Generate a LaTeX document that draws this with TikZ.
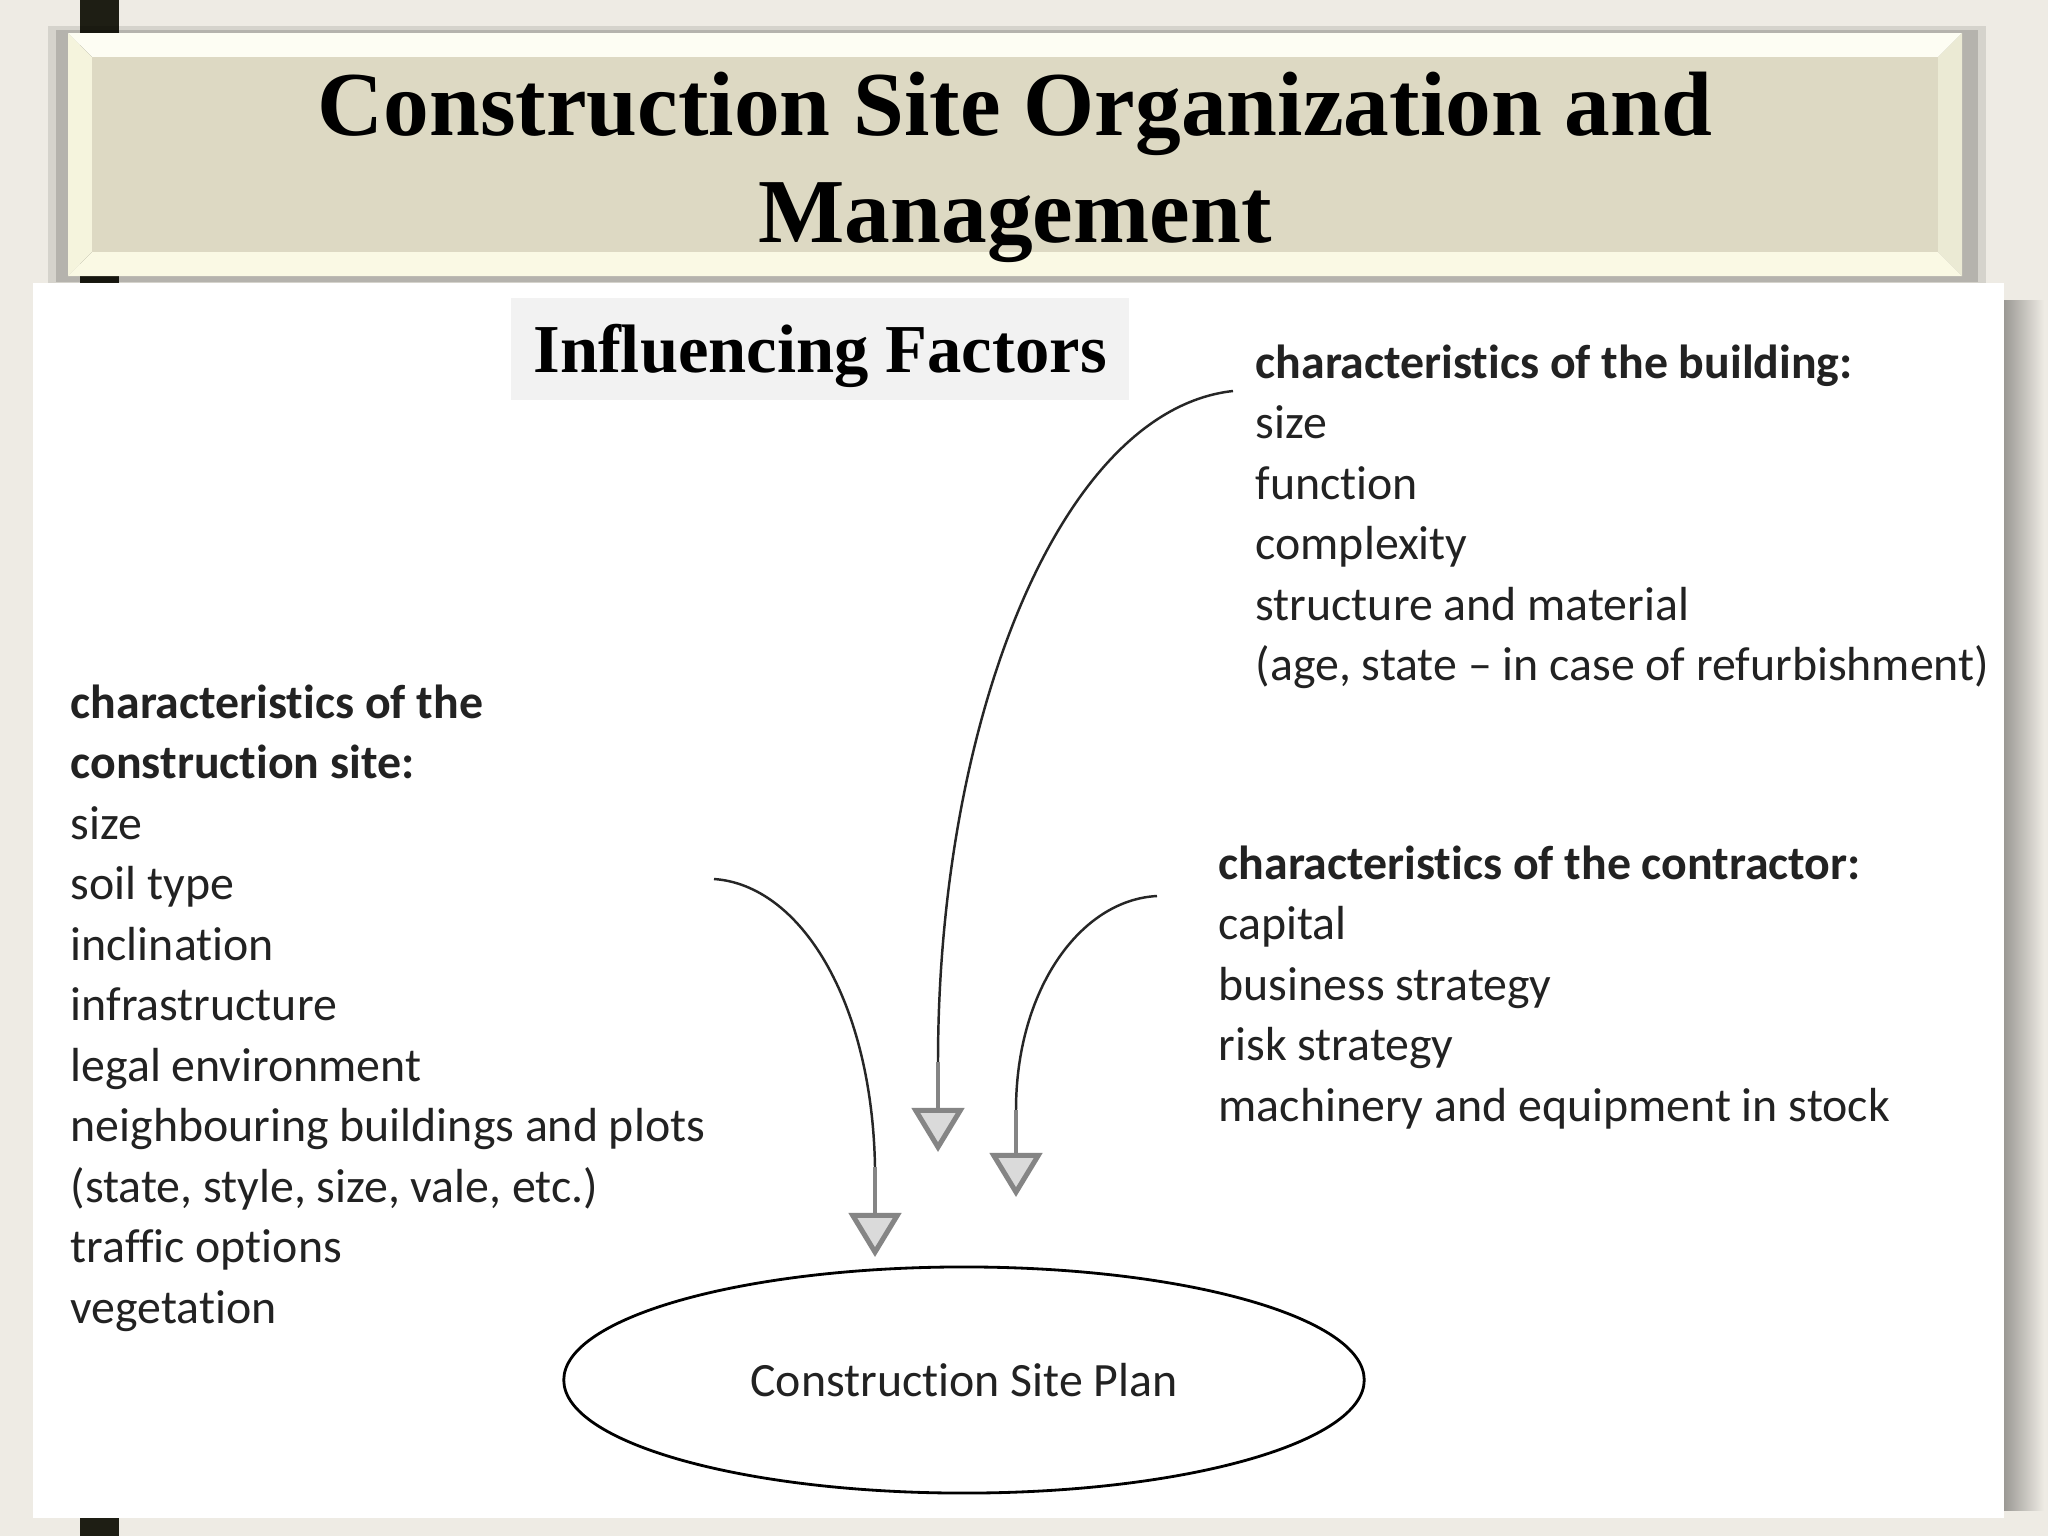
\documentclass[tikz,border=0pt]{standalone}
\usepackage{fontspec}
\setmainfont{Liberation Serif}
\newfontfamily\calibri[Ligatures={NoCommon}]{Carlito}
\usetikzlibrary{arrows.meta,shapes.geometric}
\definecolor{bg}{HTML}{EEEBE4}
\definecolor{bar}{HTML}{1E1E14}
\definecolor{bevel}{HTML}{DDD9C3}
\definecolor{bvtop}{HTML}{FDFDF3}
\definecolor{bvleft}{HTML}{F5F4DD}
\definecolor{bvbot}{HTML}{FAF9E4}
\definecolor{bvright}{HTML}{EBEAD4}
\definecolor{infbg}{HTML}{F2F2F2}
\definecolor{ink}{HTML}{222222}
\definecolor{tipgray}{HTML}{858585}
\definecolor{tipfill}{HTML}{DADADA}
\begin{document}
\begin{tikzpicture}[x=0.01cm,y=-0.01cm]
\tikzstyle{every node}=[inner sep=0pt,text=ink]
\tikzstyle{block}=[anchor=north west,align=left,font=\calibri\fontsize{13.6}{17.2}\selectfont]
\tikzstyle{flow}=[black!85,line width=0.7pt]
\tikzstyle{flowend}=[tipgray,line width=1.2pt,-{Triangle[width=0.52cm,length=0.44cm,line width=0.05cm,color=tipgray,fill=tipfill]}]

\fill[bg] (0,0) rectangle (2048,1536);
\fill[bar] (80,0) rectangle (119,1536);
\fill[black,opacity=0.10] (48,26) rectangle (1986,287);
\fill[black,opacity=0.15] (56,30) rectangle (1978,282);
\shade[left color=black!35!bg,right color=bg] (2004,300) rectangle (2044,1510);
\fill[white] (33,283) rectangle (2004,1518);

\fill[bvtop] (68,33) -- (1962,33) -- (1938,57) -- (92,57) -- cycle;
\fill[bvleft] (68,33) -- (92,57) -- (92,252) -- (68,276) -- cycle;
\fill[bvbot] (68,276) -- (92,252) -- (1938,252) -- (1962,276) -- cycle;
\fill[bvright] (1962,33) -- (1962,276) -- (1938,252) -- (1938,57) -- cycle;
\fill[bevel] (92,57) rectangle (1938,252);

\node (title) [anchor=north,align=center,text=black,font=\bfseries\fontsize{26}{30.4}\selectfont] at (1015,71) {Construction Site Organization and\\Management};
\node (inf) [fill=infbg,minimum width=6.18cm,minimum height=1.02cm,text height=0.6cm,text depth=0.14cm,text=black,font=\bfseries\fontsize{19.5}{23}\selectfont] at (820,349) {Influencing Factors};

\node (bldg) [block] at (1255,344) {\textbf{characteristics of the building:}\\size\\function\\complexity\\structure and material\\(age, state – in case of refurbishment)};
\node (site) [block] at (70,684) {\textbf{characteristics of the}\\\textbf{construction site:}\\size\\soil type\\inclination\\infrastructure\\legal environment\\neighbouring buildings and plots\\(state, style, size, vale, etc.)\\traffic options\\vegetation};
\node (contr) [block] at (1218,845) {\textbf{characteristics of the contractor:}\\capital\\business strategy\\risk strategy\\machinery and equipment in stock};
\node (plan) [ellipse,draw=black,line width=0.8pt,minimum width=8cm,minimum height=2.26cm,font=\calibri\fontsize{13.6}{16}\selectfont] at (964,1380) {Construction Site Plan};

\coordinate (b1) at (938,1062);
\coordinate (b2) at (938,1152);
\coordinate (c1) at (1016,1110);
\coordinate (c2) at (1016,1197);
\coordinate (s1) at (875,1167);
\coordinate (s2) at (875,1257);

\draw[flow] ([shift={(-22,47)}]bldg.north west) .. controls (1060,410) and (938,720) .. (b1);
\draw[flowend] (b1) -- (b2);
\draw[flow] ([shift={(-61,51)}]contr.north west) .. controls (1080,900) and (1016,990) .. (c1);
\draw[flowend] (c1) -- (c2);
\draw[flow] ([shift={(644,195)}]site.north west) .. controls (800,885) and (872,1000) .. (s1);
\draw[flowend] (s1) -- (s2);
\end{tikzpicture}
\end{document}
